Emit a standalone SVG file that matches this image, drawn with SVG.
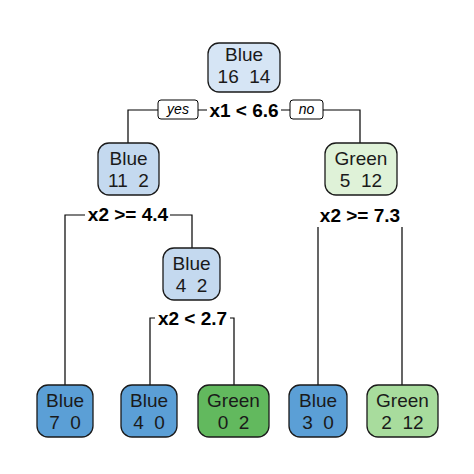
<svg xmlns="http://www.w3.org/2000/svg" width="474" height="474" viewBox="0 0 474 474">
<style>
.node{stroke:#1a1a1a;stroke-width:1.3}
.nt{font-family:"Liberation Sans",Arial,sans-serif;font-size:19px;fill:#1a1a1a;text-anchor:middle;white-space:pre}
.lbl{font-family:"Liberation Sans",Arial,sans-serif;font-size:19px;font-weight:bold;fill:#000;text-anchor:middle}
.yn{font-family:"Liberation Sans",Arial,sans-serif;font-size:14px;font-style:italic;fill:#000;text-anchor:middle}
.c{stroke:#000;stroke-width:1.2;fill:none}
.ynb{fill:#fff;stroke:#000;stroke-width:1}
</style>
<rect width="474" height="474" fill="#fff"/>
<g id="connectors">
<path class="c" d="M128,143 V110 H158 M198,110 H207 M281,110 H290 M323,110 H360 V143"/>
<path class="c" d="M65,385 V215 H85 M170,215 H192 V248"/>
<path class="c" d="M150,385 V318 H155 M230,318 H234 V385"/>
<path class="c" d="M318,227 V385 M402,227 V385"/>
</g>
<g id="root">
<rect class="node" x="208" y="43" width="72" height="49" rx="11" fill="#d6e5f5"/>
<text class="nt" x="244" y="61">Blue</text>
<text class="nt" x="244" y="83" xml:space="preserve">16  14</text>
</g>
<g id="split1">
<rect class="ynb" x="158" y="100" width="40" height="19" rx="3"/>
<text class="yn" x="178" y="114">yes</text>
<text class="lbl" x="244" y="117">x1 &lt; 6.6</text>
<rect class="ynb" x="290" y="100" width="33" height="19" rx="3"/>
<text class="yn" x="306.5" y="114">no</text>
</g>
<g id="n2">
<rect class="node" x="98" y="143" width="61" height="52" rx="11" fill="#c4d9ef"/>
<text class="nt" x="128.5" y="165">Blue</text>
<text class="nt" x="128.5" y="187" xml:space="preserve">11  2</text>
<text class="lbl" x="128" y="221">x2 &gt;= 4.4</text>
</g>
<g id="n3">
<rect class="node" x="325" y="143" width="72" height="52" rx="11" fill="#dff2d8"/>
<text class="nt" x="361" y="165">Green</text>
<text class="nt" x="361" y="187" xml:space="preserve">5  12</text>
<text class="lbl" x="360" y="222">x2 &gt;= 7.3</text>
</g>
<g id="n5">
<rect class="node" x="163" y="248" width="57" height="52" rx="11" fill="#c4d9ef"/>
<text class="nt" x="191.5" y="270">Blue</text>
<text class="nt" x="191.5" y="292" xml:space="preserve">4  2</text>
<text class="lbl" x="192.5" y="325">x2 &lt; 2.7</text>
</g>
<g id="leaf1">
<rect class="node" x="37" y="385" width="56" height="52" rx="11" fill="#5b9fd6"/>
<text class="nt" x="65" y="407">Blue</text>
<text class="nt" x="65" y="429" xml:space="preserve">7  0</text>
</g>
<g id="leaf2">
<rect class="node" x="121" y="385" width="56" height="52" rx="11" fill="#5b9fd6"/>
<text class="nt" x="149" y="407">Blue</text>
<text class="nt" x="149" y="429" xml:space="preserve">4  0</text>
</g>
<g id="leaf3">
<rect class="node" x="198" y="385" width="71" height="52" rx="11" fill="#62b95e"/>
<text class="nt" x="233.5" y="407">Green</text>
<text class="nt" x="233.5" y="429" xml:space="preserve">0  2</text>
</g>
<g id="leaf4">
<rect class="node" x="289" y="385" width="58" height="52" rx="11" fill="#5b9fd6"/>
<text class="nt" x="318" y="407">Blue</text>
<text class="nt" x="318" y="429" xml:space="preserve">3  0</text>
</g>
<g id="leaf5">
<rect class="node" x="367" y="385" width="71" height="52" rx="11" fill="#a8dc9d"/>
<text class="nt" x="402.5" y="407">Green</text>
<text class="nt" x="402.5" y="429" xml:space="preserve">2  12</text>
</g>
</svg>
